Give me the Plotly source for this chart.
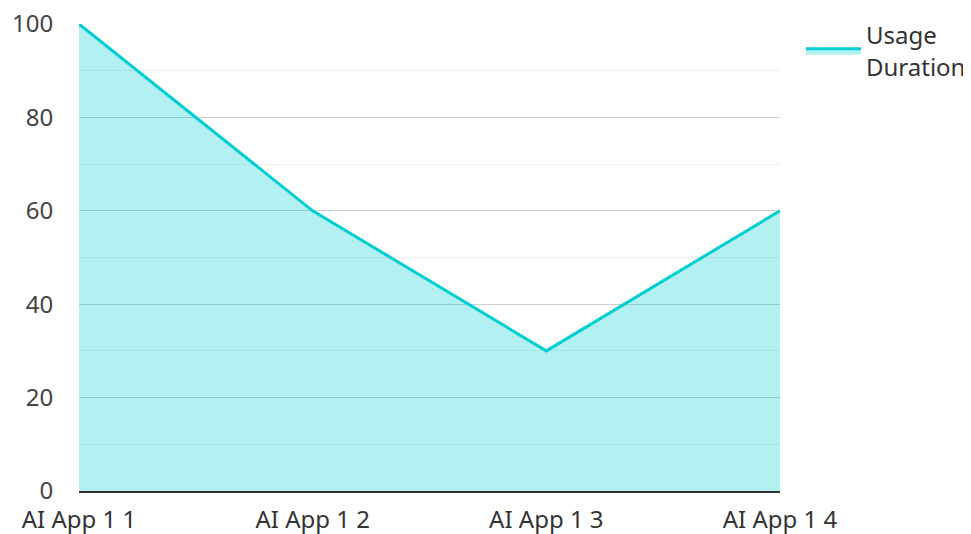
import plotly.graph_objects as go

categories = ["AI App 1 1", "AI App 1 2", "AI App 1 3", "AI App 1 4"]
usage_duration = [100, 60, 30, 60]
series_name = "Usage<br>Duration"

fig = go.Figure()
fig.add_trace(go.Scatter(
    x=categories, y=usage_duration, name=series_name,
    mode="lines", fill="tozeroy",
    line=dict(color="#00CED1", width=3),
    fillcolor="rgba(0,206,209,0.3)",
))
fig.update_layout(
    width=963, height=526,
    margin=dict(l=71, r=190, t=0, b=43),
    paper_bgcolor="white", plot_bgcolor="white",
    font=dict(family="Noto Sans", size=24, color="#444"),
    showlegend=True,
    legend=dict(x=1.03, y=0.9896, xanchor="left", yanchor="top",
                itemwidth=55,
                font=dict(size=24, color="#333"), bgcolor="rgba(0,0,0,0)"),
    xaxis=dict(type="category", range=[0, 3], showgrid=False, automargin=False,
               showline=True, linecolor="#333", linewidth=2,
               ticks="outside", ticklen=6, tickcolor="rgba(0,0,0,0)",
               ticklabeloverflow="allow",
               tickfont=dict(size=24, color="#333")),
    yaxis=dict(range=[0, 100], dtick=20, domain=[0, 0.9669],
               showgrid=True, gridcolor="rgba(0,0,0,0.2)",
               gridwidth=1, zeroline=False, showline=False, automargin=False,
               ticks="outside", ticklen=20, tickcolor="rgba(0,0,0,0)",
               ticklabeloverflow="allow",
               tickfont=dict(size=24, color="#444"),
               minor=dict(dtick=10, showgrid=True, gridcolor="rgba(0,0,0,0.07)")),
)
fig.write_html("out.html")
